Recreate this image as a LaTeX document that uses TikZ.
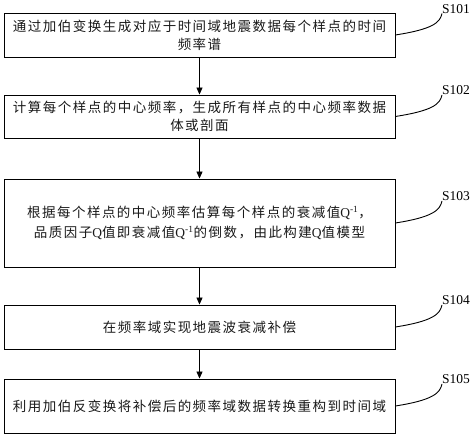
\documentclass[tikz,border=0pt]{standalone}
\usepackage{fontspec}
\setmainfont{Noto Sans CJK SC}[LetterSpace=11]
\newfontfamily\lat{Liberation Serif}
\usetikzlibrary{arrows.meta}
\tikzset{
  stepbox/.style={draw=black, line width=0.9pt, minimum width=391pt, inner sep=0pt, align=center,
    font=\fontsize{13.5}{18}\selectfont, text=black!90},
  lab/.style={inner sep=0pt, font=\lat\fontsize{13.5}{13.5}\selectfont, anchor=south west},
  flow/.style={line width=0.9pt, -{Triangle[length=7pt,width=6pt]}},
  lead/.style={line width=0.9pt}
}
\newcommand{\Qinv}{{\lat Q}\textsuperscript{\lat -1}}
\begin{document}
\begin{tikzpicture}[x=1pt,y=-1pt]
\useasboundingbox (0,0) rectangle (474,435);
\node[stepbox, minimum height=44pt] (b1) at (199.5,35) {通过加伯变换生成对应于时间域地震数据每个样点的时间\\频率谱};
\node[stepbox, minimum height=43pt] (b2) at (199.5,116.5) {计算每个样点的中心频率，生成所有样点的中心频率数据\\体或剖面};
\node[stepbox, minimum height=88pt, font=\fontsize{13.5}{20}\selectfont] (b3) at (199.5,223) {根据每个样点的中心频率估算每个样点的衰减值\Qinv，\\品质因子{\lat Q}值即衰减值\Qinv 的倒数，由此构建{\lat Q}值模型};
\node[stepbox, minimum height=44pt] (b4) at (199.5,327) {在频率域实现地震波衰减补偿};
\node[stepbox, minimum height=54pt] (b5) at (199.5,406) {利用加伯反变换将补偿后的频率域数据转换重构到时间域};

\node[lab] (l1) at (442,13.5) {S101};
\node[lab] (l2) at (442,95) {S102};
\node[lab] (l3) at (442,201) {S103};
\node[lab] (l4) at (442,305) {S104};
\node[lab] (l5) at (442,384) {S105};

\draw[flow] (b1) -- (b2);
\draw[flow] (b2) -- (b3);
\draw[flow] (b3) -- (b4);
\draw[flow] (b4) -- (b5);

\foreach \i in {1,...,5}{
  \draw[lead] (b\i.east) .. controls +(38,-6) and +(-2,9) .. (l\i.south west);
}
\end{tikzpicture}
\end{document}
